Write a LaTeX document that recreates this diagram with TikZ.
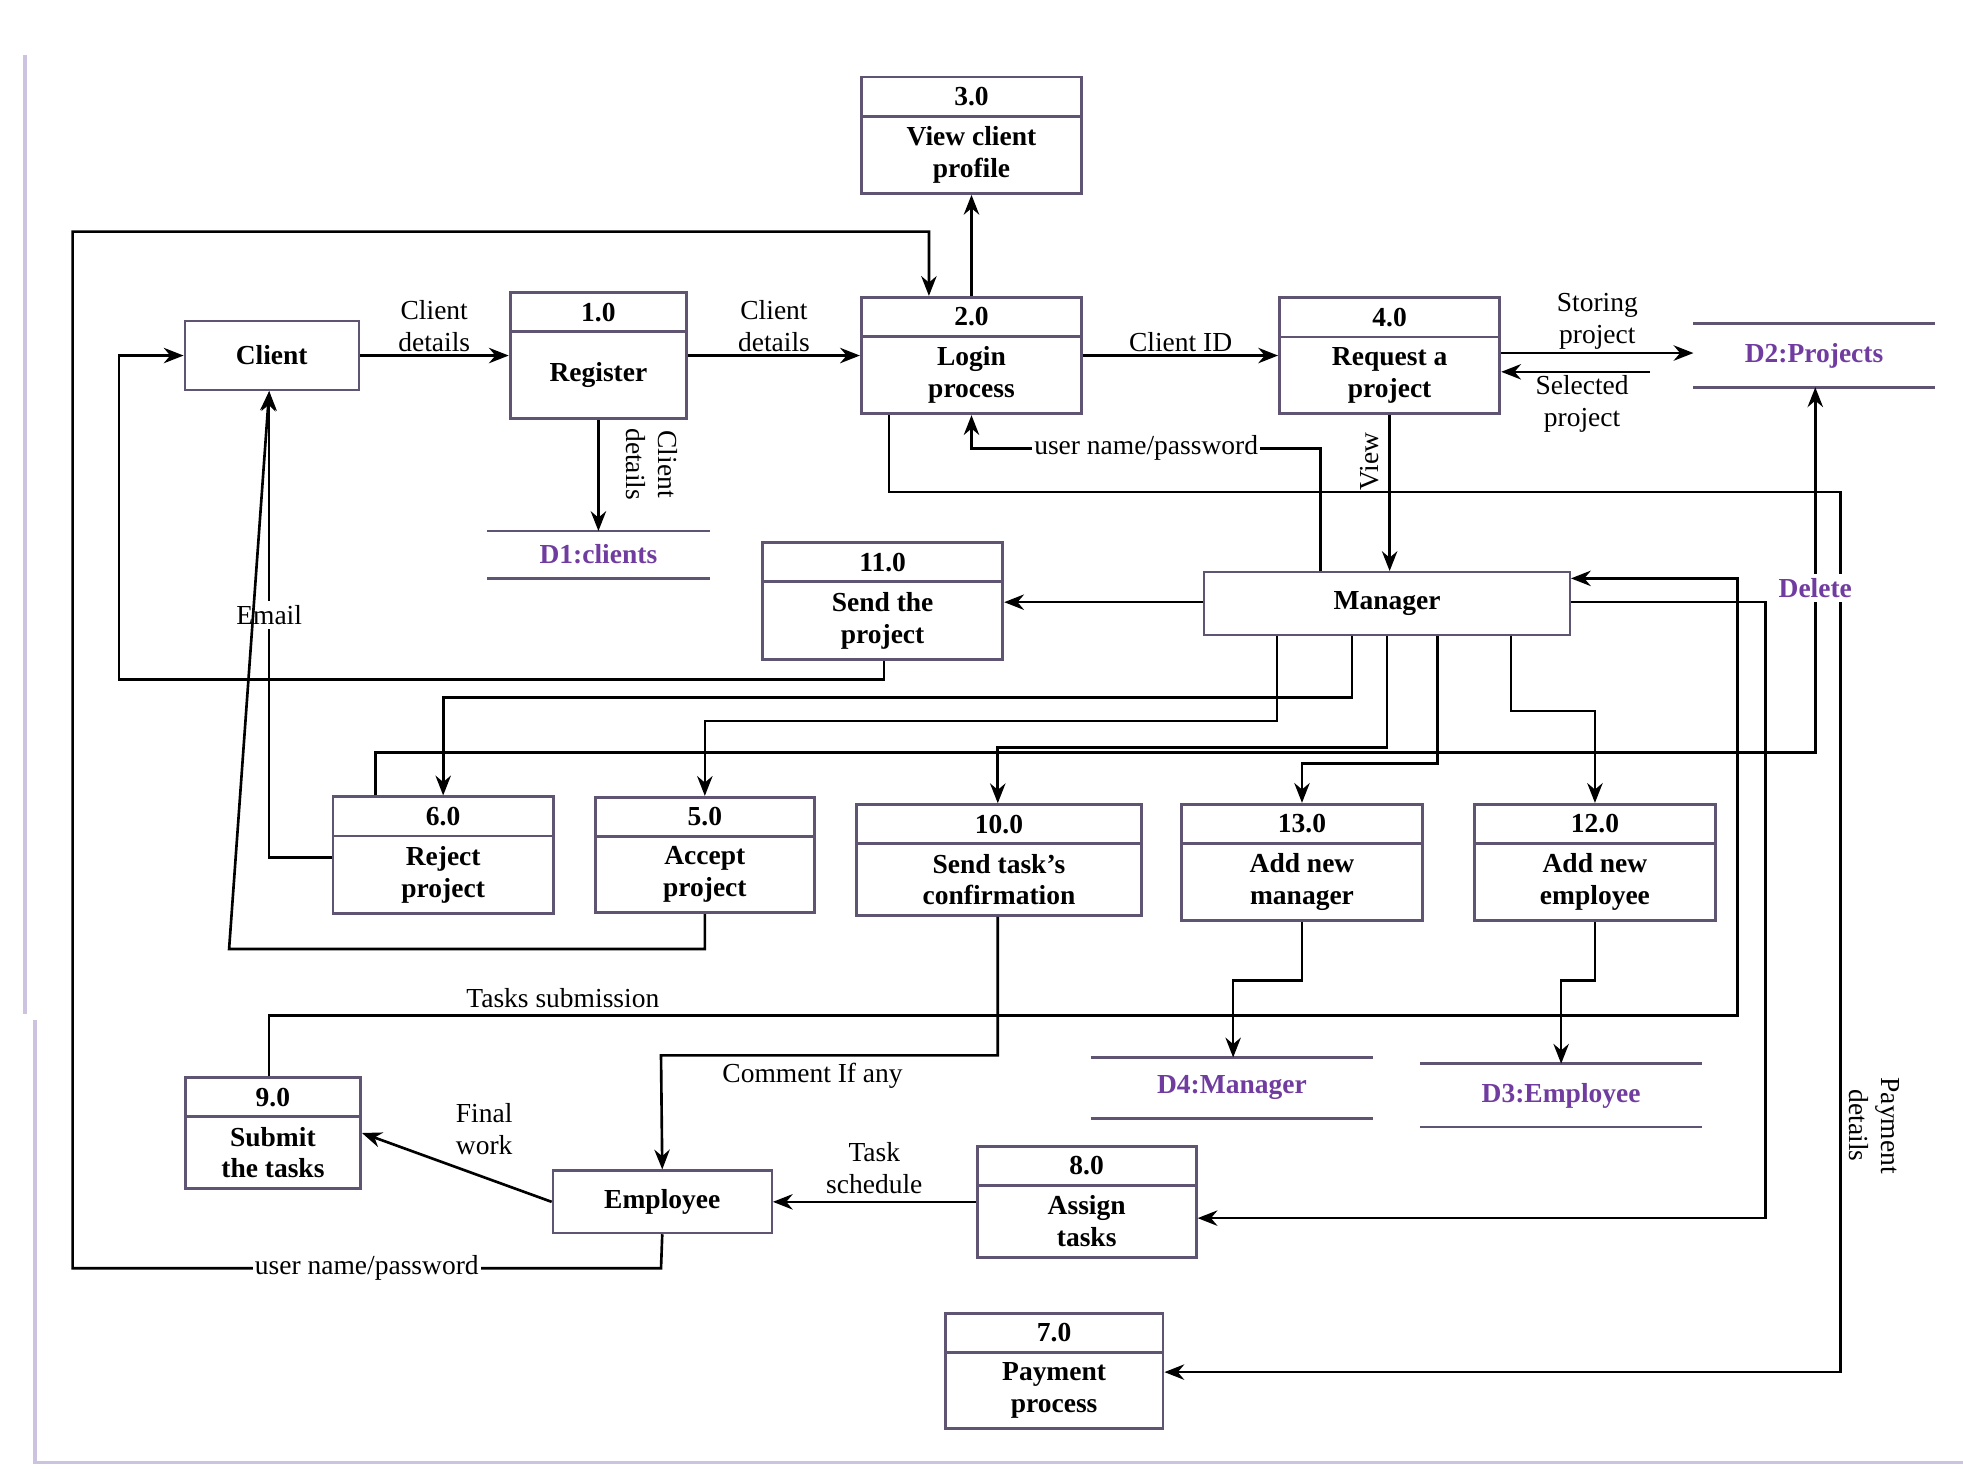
\documentclass[tikz,border=0pt]{standalone}
\usepackage{fontspec}
\setmainfont{Liberation Serif}
\usetikzlibrary{shapes.multipart,arrows.meta}
\definecolor{bx}{RGB}{95,85,115}
\definecolor{pu}{RGB}{112,60,160}
\definecolor{fr}{RGB}{205,195,225}
\begin{document}
\begin{tikzpicture}[x=0.02cm,y=-0.02cm,
 font=\fontsize{12.5}{14.5}\selectfont,
 proc/.style={rectangle split,rectangle split parts=2,draw=bx,line width=1.3pt,align=center,font=\fontsize{12.5}{14.5}\selectfont\bfseries,inner ysep=4pt},
 ent/.style={draw=bx,line width=1pt,font=\fontsize{12.5}{14.5}\selectfont\bfseries,inner sep=0pt},
 store/.style={font=\fontsize{12.5}{14.5}\selectfont\bfseries,text=pu,inner sep=0pt},
 ar/.style={-{Stealth[length=9pt,width=7pt]},line width=1.2pt},
 lb/.style={align=center,inner sep=1pt,fill=white}]
\useasboundingbox (0,0) rectangle (1568,1173);
\draw[fr,line width=1.5pt] (20,44) -- (20,810) (28,815) -- (28,1168) -- (1568,1168);
% processes
\node[proc,minimum width=3.52cm] (p3) at (776,108) {3.0\nodepart{two}View client\\profile};
\node[ent,minimum width=2.78cm,minimum height=1.1cm] (cl) at (217,284) {Client};
\node[proc,minimum width=2.82cm] (p1) at (478,284) {1.0\nodepart{two}\rule{0pt}{18pt}Register\rule[-12pt]{0pt}{0pt}};
\node[proc,minimum width=3.52cm] (p2) at (776,284) {2.0\nodepart{two}Login\\process};
\node[proc,minimum width=3.52cm] (p4) at (1110,284) {4.0\nodepart{two}Request a\\project};
\node[proc,minimum width=3.84cm] (p11) at (705,480) {11.0\nodepart{two}Send the\\project};
\node[ent,minimum width=5.84cm,minimum height=1.0cm] (mgr) at (1108,482) {Manager};
\node[proc,minimum width=3.52cm] (p6) at (354,683) {6.0\nodepart{two}Reject\\project};
\node[proc,minimum width=3.5cm] (p5) at (563,683) {5.0\nodepart{two}Accept\\project};
\node[proc,minimum width=4.56cm] (p10) at (798,687) {10.0\nodepart{two}Send task's\\confirmation};
\node[proc,minimum width=3.86cm] (p13) at (1040,689) {13.0\nodepart{two}Add new\\manager};
\node[proc,minimum width=3.86cm] (p12) at (1274,689) {12.0\nodepart{two}Add new\\employee};
\node[proc,minimum width=2.8cm] (p9) at (218,905) {9.0\nodepart{two}Submit\\the tasks};
\node[ent,minimum width=3.5cm,minimum height=1.0cm] (emp) at (529,960) {Employee};
\node[proc,minimum width=3.5cm] (p8) at (868,960) {8.0\nodepart{two}Assign\\tasks};
\node[proc,minimum width=3.48cm] (p7) at (842,1095) {7.0\nodepart{two}Payment\\process};
% stores
\node[store,minimum width=3.84cm,minimum height=1.0cm] (d2) at (1449,284) {D2:Projects};
\node[store,minimum width=3.54cm,minimum height=0.74cm] (d1) at (478,443) {D1:clients};
\node[store,minimum width=4.5cm,minimum height=0.96cm] (d4) at (984,869) {D4:Manager};
\node[store,minimum width=4.5cm,minimum height=1.0cm] (d3) at (1247,875) {D3:Employee};
\foreach \d in {d1,d2,d3,d4}{\draw[bx,line width=1.2pt] (\d.north west)--(\d.north east) (\d.south west)--(\d.south east);}
% connectors
\draw[ar] (cl.east) -- node[lb,above,fill=none]{Client\\details} (p1.west|-cl.east);
\draw[ar] (p1.east|-cl.east) -- node[lb,above,fill=none]{Client\\details} (p2.west|-cl.east);
\draw[ar] (p2.east|-cl.east) -- node[lb,above,fill=none]{Client ID} (p4.west|-cl.east);
\draw[ar] (p4.east|-0,282) -- node[lb,above,fill=none]{Storing\\project} (d2.west|-0,282);
\draw[ar] (1318,297) -- (p4.east|-0,297) node[lb,below right,fill=none,xshift=14pt]{Selected\\project};
\draw[ar] (p1.south) -- coordinate[pos=0.4](c1) (d1.north);
\node[rotate=-90,align=center,inner sep=0pt] (l1) at ([xshift=0.85cm]c1) {Client\\details};
\draw[ar] (p2.north) -- (p3.south);
\draw[ar] (emp.south) -- (528,1013) -- node[lb,pos=0.5]{user name/password} (58,1013) -- (58,185) -- (742,185) -- (p2.north-|742,0);
\draw[ar] (mgr.north-|1055,0) -- (1055,358) -- node[lb]{user name/password} (776,358) -- (p2.south-|776,0);
\draw[ar] (p4.south-|1110,0) -- coordinate[pos=0.3](c2) (mgr.north-|1110,0);
\node[rotate=90,inner sep=0pt] (l2) at ([xshift=-0.32cm]c2) {View};
\draw[ar] (p2.south-|710,0) -- (710,393) -- (1470,393) -- coordinate[pos=0.72](c3) (1470,1096) -- (p7.east|-0,1096);
\node[rotate=-90,align=center,inner sep=0pt] (l3) at ([xshift=0.55cm]c3) {Payment\\details};
\draw[ar] (mgr.west|-0,481) -- (p11.east|-0,481);
\draw[ar] (p11.south-|706,0) -- (706,543) -- (95,543) -- (95,284) -- (cl.west);
\draw[ar] (p6.west|-0,685) -- (215,685) -- node[lb,pos=0.52,inner sep=2pt]{Email} (cl.south-|215,0);
\draw[ar] (p5.south) -- (563,758) -- (183,758) -- (cl.south-|215,0);
\draw[ar] (mgr.south-|1080,0) -- (1080,557) -- (354,557) -- (p6.north);
\draw[ar] (mgr.south-|1020,0) -- (1020,576) -- (563,576) -- (p5.north);
\draw[ar] (mgr.south-|1108,0) -- (1108,597) -- (797,597) -- (p10.north-|797,0);
\draw[ar] (mgr.south-|1148,0) -- (1148,610) -- (1040,610) -- (p13.north);
\draw[ar] (mgr.south-|1207,0) -- (1207,568) -- (1274,568) -- (p12.north);
\draw[ar] (p6.north-|300,0) -- (300,601) -- (1450,601) -- node[pos=0.45,fill=white,text=pu,font=\fontsize{12.5}{14.5}\selectfont\bfseries,inner sep=2pt]{Delete} (d2.south-|1450,0);
\draw[ar] (p10.south-|797,0) -- (797,843) -- node[below,pos=0.55,inner sep=3pt]{Comment If any} (528,843) -- (emp.north);
\draw[ar] (p9.north-|215,0) -- (215,811) -- node[above,pos=0.2,inner sep=3pt]{Tasks submission} (1388,811) -- (1388,462) -- (mgr.east|-0,462);
\draw[ar] (mgr.east|-0,481) -- (1410,481) -- (1410,973) -- (p8.east|-0,973);
\draw[ar] (p13.south) -- (1040,783) -- (985,783) -- (d4.north-|985,0);
\draw[ar] (p12.south) -- (1274,783) -- (1247,783) -- (d3.north);
\draw[ar] (p8.west|-0,960) -- node[above,align=center,inner sep=3pt]{Task\\schedule} (emp.east);
\draw[ar] (emp.west) -- node[above right,align=center,inner sep=3pt,xshift=-4pt,yshift=2pt]{Final\\work} (p9.east|-0,905);
\end{tikzpicture}
\end{document}
